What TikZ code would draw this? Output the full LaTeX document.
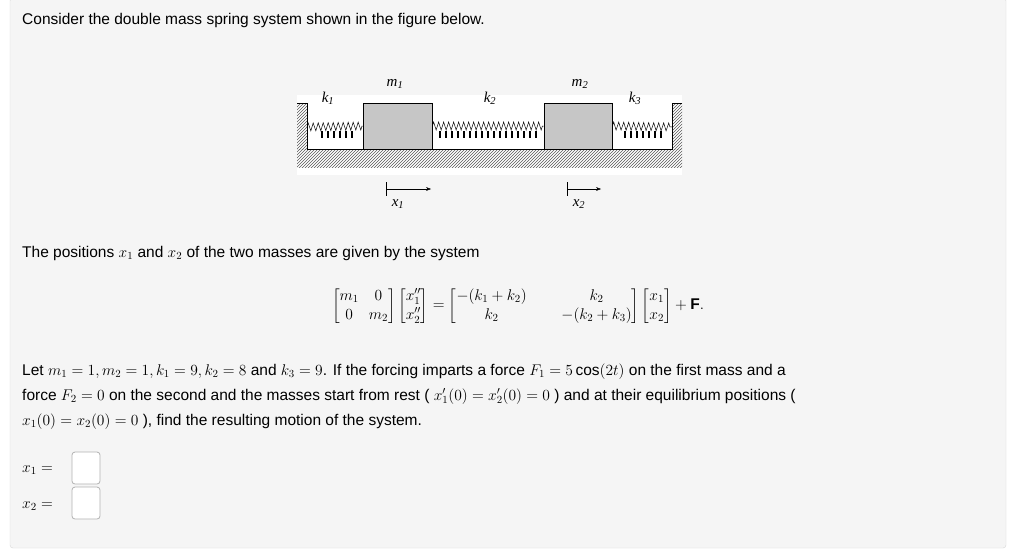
\RequirePackage{fix-cm}
\documentclass[tikz,border=0pt]{standalone}
\usepackage{amsmath}
\usepackage{fontspec}
\setmainfont{Liberation Sans}
\newfontfamily\serifit{Liberation Serif}
\usetikzlibrary{patterns,decorations.pathmorphing,arrows.meta}
\begin{document}
\begin{tikzpicture}[x=1pt,y=-1pt,
  txt/.style={anchor=base west,inner sep=0,font=\fontsize{15.5}{19}\selectfont},
  lbl/.style={inner sep=0,font=\fontsize{15}{17}\selectfont\serifit\itshape},
  mass/.style={draw,fill=gray!45,line width=0.8pt},
  spr/.style={decorate,decoration={zigzag,segment length=5pt,amplitude=4pt},line width=0.5pt},
  hatch/.style={pattern=north east lines,pattern color=gray!70!black},
  ansbox/.style={draw=gray!60,fill=white,rounded corners=3pt,line width=0.8pt}]
\useasboundingbox (0,0) rectangle (1024,554);
\fill[white] (0,0) rectangle (1024,554);
\draw[gray!30,fill=gray!8,rounded corners=3pt] (10,-2) rectangle (1006,548);
\node[txt] (t1) at (22,24) {Consider the double mass spring system shown in the figure below.};
% figure
\fill[white] (297,95) rectangle (682,175);
\fill[hatch] (297,149) rectangle (682,167);
\fill[hatch] (297,103) rectangle (307,149);
\fill[hatch] (672,103) rectangle (682,149);
\draw[line width=0.7pt] (297,103) -- (307,103) -- (307,149) -- (672,149) -- (672,103) -- (682,103);
\node[mass,minimum width=69pt,minimum height=46pt,inner sep=0] (m1) at (397.5,126) {};
\node[mass,minimum width=68pt,minimum height=46pt,inner sep=0] (m2) at (578,126) {};
\coordinate (wl) at (307,127);
\coordinate (wr) at (672,127);
\draw[spr] (wl) -- (m1.west);
\draw[spr] (m1.east) -- (m2.west);
\draw[spr] (m2.east) -- (wr);
\foreach \x in {322,328,...,352} \draw[line width=1.4pt] (\x,131) -- (\x,138);
\foreach \x in {440,446,...,536} \draw[line width=1.4pt] (\x,131) -- (\x,138);
\foreach \x in {625,631,...,661} \draw[line width=1.4pt] (\x,131) -- (\x,138);
\node[lbl] (lm1) at (395,84) {m\textsubscript{1}};
\node[lbl] (lm2) at (580,84) {m\textsubscript{2}};
\node[lbl] (lk1) at (328,98) {k\textsubscript{1}};
\node[lbl] (lk2) at (490,98) {k\textsubscript{2}};
\node[lbl] (lk3) at (635,98) {k\textsubscript{3}};
\coordinate (a1) at (386,189); \coordinate (b1) at (431,189);
\coordinate (a2) at (567,189); \coordinate (b2) at (601,189);
\draw (386,182) -- (386,196); \draw (567,182) -- (567,196);
\draw[-{Stealth[length=5pt]}] (a1) -- (b1);
\draw[-{Stealth[length=5pt]}] (a2) -- (b2);
\node[lbl] (lx1) at (398,204) {x\textsubscript{1}};
\node[lbl] (lx2) at (579,204) {x\textsubscript{2}};
% text
\node[txt] (t2) at (22,257) {The positions $x_1$ and $x_2$ of the two masses are given by the system};
\node[inner sep=0,font=\fontsize{15.5}{19}\selectfont] (eq) at (518,306) {$\begin{bmatrix} m_1 & 0\\ 0 & m_2\end{bmatrix}\begin{bmatrix} x_1''\\ x_2''\end{bmatrix}=\begin{bmatrix} -(k_1+k_2) & \hspace{1.6em}k_2\\ k_2 & \hspace{1.6em}-(k_2+k_3)\end{bmatrix}\begin{bmatrix} x_1\\ x_2\end{bmatrix}+\mathbf{F}.$};
\node[txt] (p1) at (22,375) {Let $m_1=1, m_2=1, k_1=9, k_2=8$ and $k_3=9$. If the forcing imparts a force $F_1=5\cos(2t)$ on the first mass and a};
\node[txt] (p2) at (22,400) {force $F_2=0$ on the second and the masses start from rest ( $x_1'(0)=x_2'(0)=0$ ) and at their equilibrium positions (};
\node[txt] (p3) at (22,425) {$x_1(0)=x_2(0)=0$ ), find the resulting motion of the system.};
\node[txt] (q1) at (22,472) {$x_1=$};
\node[txt] (q2) at (22,508) {$x_2=$};
\draw[ansbox] (72,452) rectangle (100,484);
\draw[ansbox] (72,487) rectangle (100,519);
\end{tikzpicture}
\end{document}
